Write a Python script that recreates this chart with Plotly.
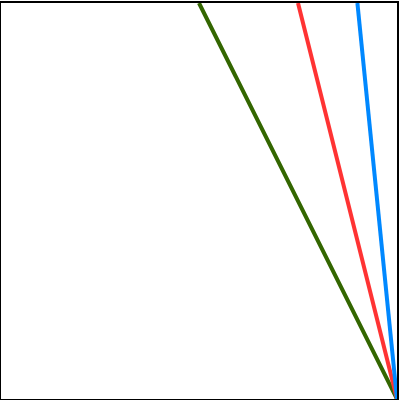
import plotly.graph_objects as go

# line endpoints (axis units 0..10)
green_x = [5.0, 10.0]
green_y = [10.0, 0.0]
red_x = [7.5, 10.0]
red_y = [10.0, 0.0]
blue_x = [9.0, 10.0]
blue_y = [10.0, 0.0]

fig = go.Figure()
fig.add_trace(go.Scatter(x=green_x, y=green_y, mode="lines",
                         line=dict(color="#336600", width=4)))
fig.add_trace(go.Scatter(x=red_x, y=red_y, mode="lines",
                         line=dict(color="#FF3333", width=4)))
fig.add_trace(go.Scatter(x=blue_x, y=blue_y, mode="lines",
                         line=dict(color="#0088FF", width=4)))

axis_style = dict(range=[0, 10], showgrid=False, zeroline=False,
                  showticklabels=False, ticks="", showline=True,
                  mirror=True, linecolor="black", linewidth=2)

fig.update_layout(
    width=400, height=400,
    margin=dict(l=1, r=1, t=1, b=1),
    showlegend=False,
    plot_bgcolor="white", paper_bgcolor="white",
    xaxis=axis_style, yaxis=axis_style,
)

# drop the browser's default 8px body margin so the chart sits at 0,0
fig.write_html("out.html", config={"displayModeBar": False},
               post_script="document.body.style.margin='0';")
